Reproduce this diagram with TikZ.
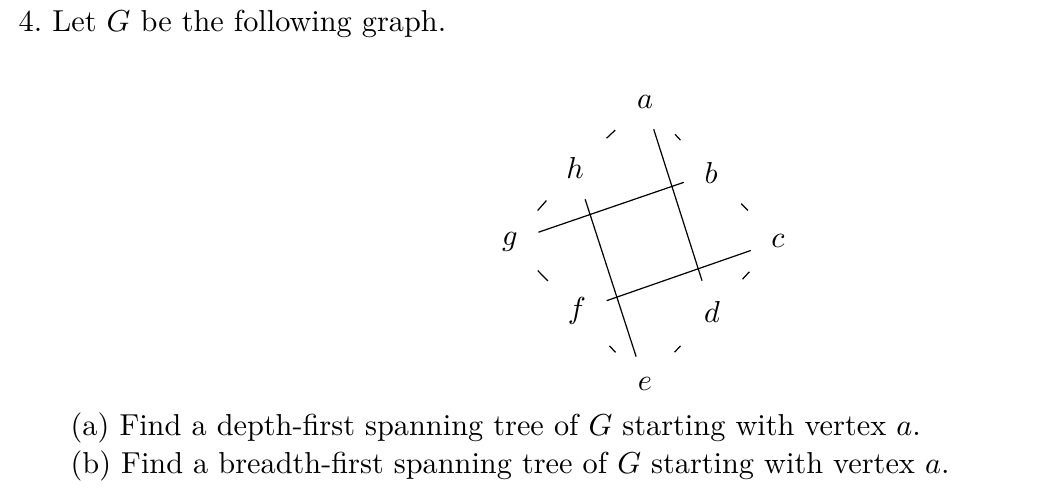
\documentclass[tikz,border=0pt]{standalone}
\begin{document}
\begin{tikzpicture}[x=0.33pt,y=-0.33pt,
  v/.style={inner sep=0pt,minimum size=0pt},
  e/.style={line width=0.4pt,shorten >=14pt,shorten <=14pt}]
\useasboundingbox (0,0) rectangle (1038,502);
\node[anchor=west] (t) at (8,24) {4.\ Let $G$ be the following graph.};
\node[v] (a) at (645,102) {$a$};
\node[v] (b) at (711,173) {$b$};
\node[v] (c) at (778,241) {$c$};
\node[v] (d) at (712,312) {$d$};
\node[v] (e) at (645,384) {$e$};
\node[v] (f) at (577,311) {$f$};
\node[v] (g) at (510,242) {$g$};
\node[v] (h) at (575,168) {$h$};
\foreach \p/\q in {a/h,a/b,b/c,c/d,d/e,e/f,f/g,g/h}
  \draw[e] (\p) -- (\q);
\draw[line width=0.4pt,shorten >=7pt,shorten <=7pt] (g) -- (b);
\draw[line width=0.4pt,shorten >=7pt,shorten <=7pt] (f) -- (c);
\draw[line width=0.4pt,shorten >=7pt,shorten <=7pt] (h) -- (e);
\draw[line width=0.4pt,shorten >=7pt,shorten <=7pt] (a) -- (d);
\node[anchor=west] (qa) at (60,428) {(a) Find a depth-first spanning tree of $G$ starting with vertex $a$.};
\node[anchor=west] (qb) at (60,466) {(b) Find a breadth-first spanning tree of $G$ starting with vertex $a$.};
\end{tikzpicture}
\end{document}
